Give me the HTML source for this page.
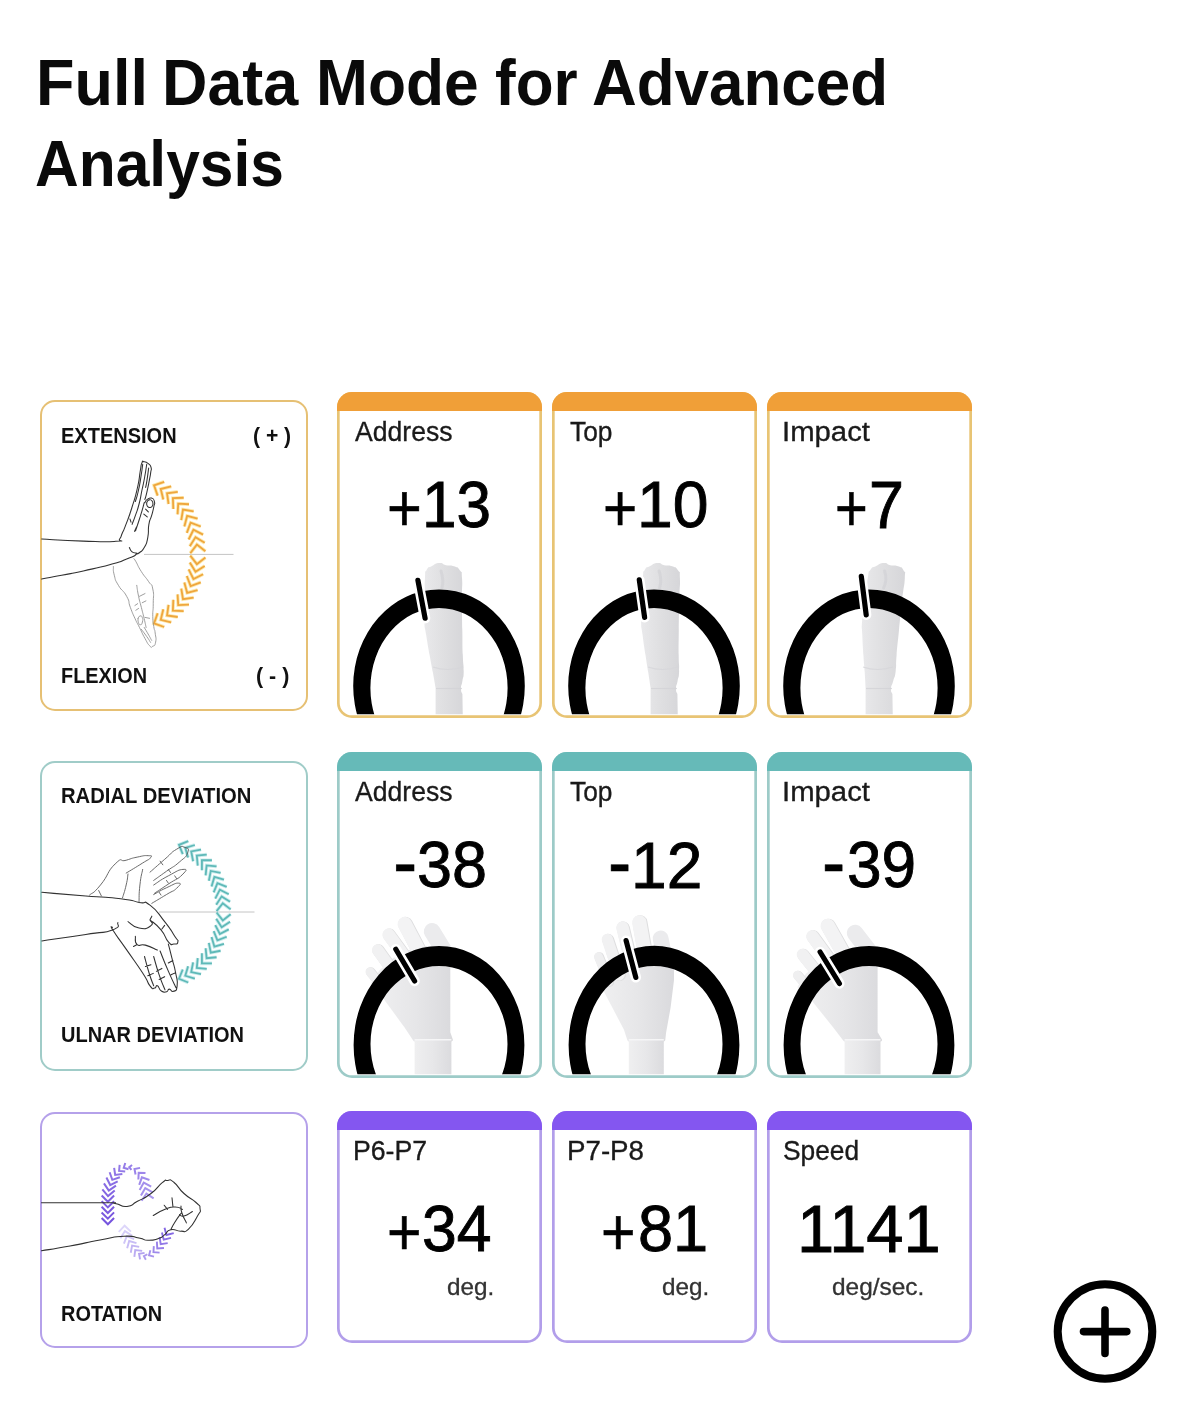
<!DOCTYPE html>
<html><head><meta charset="utf-8"><title>Full Data Mode</title>
<style>
html,body{margin:0;padding:0;background:#fff;}
body{width:1200px;height:1428px;position:relative;overflow:hidden;filter:blur(0.45px);font-family:"Liberation Sans",sans-serif;color:#111;}
.t{position:absolute;white-space:nowrap;line-height:1;transform-origin:0 0;margin:0;padding:0;}
.b{font-weight:bold;}
.card{position:absolute;box-sizing:border-box;background:#fff;overflow:hidden;}
.bar{position:absolute;left:0;top:0;right:0;}
svg{position:absolute;left:0;top:0;overflow:visible;}
</style></head><body>
<h1 style="margin:0;font-size:0">
<span class="t b" style="left:36.25px;top:50.71px;font-size:64.73px;transform:scaleX(0.9727);color:#0a0a0a;">Full</span>
<span class="t b" style="left:162.01px;top:50.71px;font-size:64.73px;transform:scaleX(0.9713);color:#0a0a0a;">Data</span>
<span class="t b" style="left:316.29px;top:50.71px;font-size:64.73px;transform:scaleX(0.9633);color:#0a0a0a;">Mode</span>
<span class="t b" style="left:495.17px;top:50.62px;font-size:64.83px;transform:scaleX(0.9563);color:#0a0a0a;">for</span>
<span class="t b" style="left:592.45px;top:50.71px;font-size:64.73px;transform:scaleX(0.9571);color:#0a0a0a;">Advanced</span>
<span class="t b" style="left:34.74px;top:131.35px;font-size:65.09px;transform:scaleX(0.9299);color:#0a0a0a;">Analysis</span>
</h1>
<div class="card" style="left:39.7px;top:400px;width:268.7px;height:310.5px;border:2.6px solid #e6c074;border-radius:15px;"></div>
<div class="card" style="left:39.7px;top:761px;width:268.7px;height:309.5px;border:2.6px solid #a0ccc8;border-radius:15px;"></div>
<div class="card" style="left:39.7px;top:1111.5px;width:268.7px;height:236.5px;border:2.6px solid #b5a1ea;border-radius:15px;"></div>
<div class="card" style="left:337.4px;top:392px;width:204.7px;height:326px;border-radius:15px;box-shadow:inset 0 0 0 2.7px #e8c474;"><div class="bar" style="height:19.1px;background:#f09f38;"></div></div>
<div class="card" style="left:552.3px;top:392px;width:204.7px;height:326px;border-radius:15px;box-shadow:inset 0 0 0 2.7px #e8c474;"><div class="bar" style="height:19.1px;background:#f09f38;"></div></div>
<div class="card" style="left:767.2px;top:392px;width:204.7px;height:326px;border-radius:15px;box-shadow:inset 0 0 0 2.7px #e8c474;"><div class="bar" style="height:19.1px;background:#f09f38;"></div></div>
<div class="card" style="left:337.4px;top:751.75px;width:204.7px;height:326.25px;border-radius:15px;box-shadow:inset 0 0 0 2.7px #9dcbc8;"><div class="bar" style="height:19.1px;background:#66bab8;"></div></div>
<div class="card" style="left:552.3px;top:751.75px;width:204.7px;height:326.25px;border-radius:15px;box-shadow:inset 0 0 0 2.7px #9dcbc8;"><div class="bar" style="height:19.1px;background:#66bab8;"></div></div>
<div class="card" style="left:767.2px;top:751.75px;width:204.7px;height:326.25px;border-radius:15px;box-shadow:inset 0 0 0 2.7px #9dcbc8;"><div class="bar" style="height:19.1px;background:#66bab8;"></div></div>
<div class="card" style="left:337.4px;top:1111.25px;width:204.7px;height:231.75px;border-radius:15px;box-shadow:inset 0 0 0 2.7px #b29eea;"><div class="bar" style="height:19.1px;background:#8456f0;"></div></div>
<div class="card" style="left:552.3px;top:1111.25px;width:204.7px;height:231.75px;border-radius:15px;box-shadow:inset 0 0 0 2.7px #b29eea;"><div class="bar" style="height:19.1px;background:#8456f0;"></div></div>
<div class="card" style="left:767.2px;top:1111.25px;width:204.7px;height:231.75px;border-radius:15px;box-shadow:inset 0 0 0 2.7px #b29eea;"><div class="bar" style="height:19.1px;background:#8456f0;"></div></div>
<span class="t b" style="left:60.65px;top:425.24px;font-size:22.40px;transform:scaleX(0.8936);color:#111;">EXTENSION</span>
<span class="t b" style="left:252.74px;top:425.24px;font-size:22.40px;transform:scaleX(0.9426);color:#111;">( + )</span>
<span class="t b" style="left:61.16px;top:665.04px;font-size:22.40px;transform:scaleX(0.8875);color:#111;">FLEXION</span>
<span class="t b" style="left:255.53px;top:665.04px;font-size:22.40px;transform:scaleX(0.9573);color:#111;">( - )</span>
<span class="t b" style="left:60.63px;top:785.24px;font-size:22.40px;transform:scaleX(0.9037);color:#111;">RADIAL DEVIATION</span>
<span class="t b" style="left:60.80px;top:1024.14px;font-size:22.40px;transform:scaleX(0.8934);color:#111;">ULNAR DEVIATION</span>
<span class="t b" style="left:60.65px;top:1302.64px;font-size:22.40px;transform:scaleX(0.8897);color:#111;">ROTATION</span>
<span class="t" style="left:355.43px;top:416.69px;font-size:28.36px;transform:scaleX(0.9373);color:#1a1a1a;-webkit-text-stroke:0.35px #1a1a1a;">Address</span>
<span class="t" style="left:569.91px;top:416.69px;font-size:28.36px;transform:scaleX(0.9284);color:#1a1a1a;-webkit-text-stroke:0.35px #1a1a1a;">Top</span>
<span class="t" style="left:782.29px;top:416.69px;font-size:28.36px;transform:scaleX(1.0334);color:#1a1a1a;-webkit-text-stroke:0.35px #1a1a1a;">Impact</span>
<span class="t" style="left:355.43px;top:776.69px;font-size:28.36px;transform:scaleX(0.9373);color:#1a1a1a;-webkit-text-stroke:0.35px #1a1a1a;">Address</span>
<span class="t" style="left:569.91px;top:776.69px;font-size:28.36px;transform:scaleX(0.9284);color:#1a1a1a;-webkit-text-stroke:0.35px #1a1a1a;">Top</span>
<span class="t" style="left:782.29px;top:776.69px;font-size:28.36px;transform:scaleX(1.0334);color:#1a1a1a;-webkit-text-stroke:0.35px #1a1a1a;">Impact</span>
<span class="t" style="left:352.80px;top:1136.61px;font-size:27.64px;transform:scaleX(0.9645);color:#1a1a1a;-webkit-text-stroke:0.35px #1a1a1a;">P6-P7</span>
<span class="t" style="left:566.71px;top:1136.61px;font-size:27.64px;transform:scaleX(1.0027);color:#1a1a1a;-webkit-text-stroke:0.35px #1a1a1a;">P7-P8</span>
<span class="t" style="left:782.51px;top:1136.94px;font-size:27.24px;transform:scaleX(0.9671);color:#1a1a1a;-webkit-text-stroke:0.35px #1a1a1a;">Speed</span>
<div class="num"><span class="t" style="left:387.32px;top:475.01px;font-size:66.12px;transform:scaleX(0.9012);color:#000;-webkit-text-stroke:0.6px #000;">+</span><span class="t" style="left:422.05px;top:472.83px;font-size:64.59px;transform:scaleX(0.9609);color:#000;-webkit-text-stroke:0.9px #000;">13</span></div>
<div class="num"><span class="t" style="left:602.87px;top:475.01px;font-size:66.12px;transform:scaleX(0.8856);color:#000;-webkit-text-stroke:0.6px #000;">+</span><span class="t" style="left:636.88px;top:472.83px;font-size:64.59px;transform:scaleX(0.9948);color:#000;-webkit-text-stroke:0.9px #000;">10</span></div>
<div class="num"><span class="t" style="left:835.00px;top:475.01px;font-size:66.12px;transform:scaleX(0.8482);color:#000;-webkit-text-stroke:0.6px #000;">+</span><span class="t" style="left:869.15px;top:471.88px;font-size:66.47px;transform:scaleX(0.9442);color:#000;-webkit-text-stroke:0.9px #000;">7</span></div>
<div class="num"><span class="t" style="left:392.52px;top:821.58px;font-size:80.00px;transform:scaleX(0.9098);color:#000;-webkit-text-stroke:0.6px #000;">-</span><span class="t" style="left:416.84px;top:832.83px;font-size:64.59px;transform:scaleX(0.9747);color:#000;-webkit-text-stroke:0.9px #000;">38</span></div>
<div class="num"><span class="t" style="left:607.91px;top:821.58px;font-size:80.00px;transform:scaleX(0.8711);color:#000;-webkit-text-stroke:0.6px #000;">-</span><span class="t" style="left:630.89px;top:832.69px;font-size:65.52px;transform:scaleX(0.9785);color:#000;-webkit-text-stroke:0.9px #000;">12</span></div>
<div class="num"><span class="t" style="left:822.46px;top:821.58px;font-size:80.00px;transform:scaleX(0.8711);color:#000;-webkit-text-stroke:0.6px #000;">-</span><span class="t" style="left:846.87px;top:832.83px;font-size:64.59px;transform:scaleX(0.9620);color:#000;-webkit-text-stroke:0.9px #000;">39</span></div>
<div class="num"><span class="t" style="left:386.85px;top:1199.01px;font-size:66.12px;transform:scaleX(0.8934);color:#000;-webkit-text-stroke:0.6px #000;">+</span><span class="t" style="left:421.85px;top:1196.83px;font-size:64.59px;transform:scaleX(0.9681);color:#000;-webkit-text-stroke:0.9px #000;">34</span></div>
<div class="num"><span class="t" style="left:601.34px;top:1199.01px;font-size:66.12px;transform:scaleX(0.8949);color:#000;-webkit-text-stroke:0.6px #000;">+</span><span class="t" style="left:638.47px;top:1196.83px;font-size:64.59px;transform:scaleX(0.9775);color:#000;-webkit-text-stroke:0.9px #000;">81</span></div>
<div class="num"><span class="t" style="left:796.74px;top:1195.88px;font-size:66.47px;transform:scaleX(1.0054);color:#000;-webkit-text-stroke:0.9px #000;">1141</span></div>
<span class="t" style="left:446.97px;top:1275.07px;font-size:24.14px;transform:scaleX(1.0057);color:#333;-webkit-text-stroke:0.3px #333;">deg.</span>
<span class="t" style="left:661.97px;top:1275.07px;font-size:24.14px;transform:scaleX(1.0057);color:#333;-webkit-text-stroke:0.3px #333;">deg.</span>
<span class="t" style="left:832.16px;top:1275.07px;font-size:24.14px;transform:scaleX(1.0120);color:#333;-webkit-text-stroke:0.3px #333;">deg/sec.</span>
<svg width="1200" height="1428" viewBox="0 0 1200 1428">
<defs>
<filter id="bl" x="-10%" y="-10%" width="120%" height="120%"><feGaussianBlur stdDeviation="0.7"/></filter>
<filter id="bl2" x="-10%" y="-10%" width="120%" height="120%"><feGaussianBlur stdDeviation="0.35"/></filter>
<linearGradient id="hg" x1="0" x2="1" y1="0" y2="0"><stop offset="0" stop-color="#f0f0f1"/><stop offset="0.55" stop-color="#e6e6e8"/><stop offset="1" stop-color="#dadadd"/></linearGradient>
<linearGradient id="hg1" x1="0" x2="1" y1="0" y2="0"><stop offset="0" stop-color="#e9e9eb"/><stop offset="0.5" stop-color="#dfdfe1"/><stop offset="1" stop-color="#d6d6d9"/></linearGradient>
<linearGradient id="wg" x1="0" x2="1" y1="0" y2="0"><stop offset="0" stop-color="#efeff0"/><stop offset="0.5" stop-color="#e7e7e9"/><stop offset="1" stop-color="#dbdbde"/></linearGradient>
<clipPath id="cp00"><rect x="340" y="394.5" width="199.5" height="319.79999999999995" rx="12.5"/></clipPath>
<clipPath id="cp01"><rect x="555" y="394.5" width="199.5" height="319.79999999999995" rx="12.5"/></clipPath>
<clipPath id="cp02"><rect x="770" y="394.5" width="199.5" height="319.79999999999995" rx="12.5"/></clipPath>
<clipPath id="cp10"><rect x="340" y="755" width="199.5" height="319.29999999999995" rx="12.5"/></clipPath>
<clipPath id="cp11"><rect x="555" y="755" width="199.5" height="319.29999999999995" rx="12.5"/></clipPath>
<clipPath id="cp12"><rect x="770" y="755" width="199.5" height="319.29999999999995" rx="12.5"/></clipPath>
</defs>
<g id="p1">
<path d="M144 554.4H233.5" stroke="#c4c4c4" stroke-width="1"/>
<g filter="url(#bl2)"><path d="M190.27 553.18L196.87 544.63L205.42 551.23M205.42 557.57L196.87 564.17L190.27 555.62M189.81 546.29L195.53 537.13L204.69 542.85M204.69 565.95L195.53 571.67L189.81 562.51M188.66 539.49L193.44 529.80L203.12 534.58M203.12 574.22L193.44 579.00L188.66 569.31M186.84 532.84L190.63 522.72L200.75 526.51M200.75 582.29L190.63 586.08L186.84 575.96M184.37 526.40L187.14 515.96L197.58 518.72M197.58 590.08L187.14 592.84L184.37 582.40M181.27 520.23L182.99 509.57L193.65 511.28M193.65 597.52L182.99 599.23L181.27 588.57M177.58 514.41L178.22 503.63L189.00 504.27M189.00 604.53L178.22 605.17L177.58 594.39M173.32 508.98L172.89 498.19L183.68 497.76M183.68 611.04L172.89 610.61L173.32 599.82M168.54 504.00L167.04 493.31L177.74 491.80M177.74 617.00L167.04 615.49L168.54 604.80M163.30 499.52L160.74 489.03L171.23 486.47M171.23 622.33L160.74 619.77L163.30 609.28M157.63 495.59L154.04 485.40L164.23 481.81M164.23 626.99L154.04 623.40L157.63 613.21" fill="none" stroke="#fbe49a" stroke-width="3.6" stroke-linejoin="miter" opacity="0.8"/>
<path d="M190.27 553.18L196.87 544.63L205.42 551.23M205.42 557.57L196.87 564.17L190.27 555.62M189.81 546.29L195.53 537.13L204.69 542.85M204.69 565.95L195.53 571.67L189.81 562.51M188.66 539.49L193.44 529.80L203.12 534.58M203.12 574.22L193.44 579.00L188.66 569.31M186.84 532.84L190.63 522.72L200.75 526.51M200.75 582.29L190.63 586.08L186.84 575.96M184.37 526.40L187.14 515.96L197.58 518.72M197.58 590.08L187.14 592.84L184.37 582.40M181.27 520.23L182.99 509.57L193.65 511.28M193.65 597.52L182.99 599.23L181.27 588.57M177.58 514.41L178.22 503.63L189.00 504.27M189.00 604.53L178.22 605.17L177.58 594.39M173.32 508.98L172.89 498.19L183.68 497.76M183.68 611.04L172.89 610.61L173.32 599.82M168.54 504.00L167.04 493.31L177.74 491.80M177.74 617.00L167.04 615.49L168.54 604.80M163.30 499.52L160.74 489.03L171.23 486.47M171.23 622.33L160.74 619.77L163.30 609.28M157.63 495.59L154.04 485.40L164.23 481.81M164.23 626.99L154.04 623.40L157.63 613.21" fill="none" stroke="#efa63c" stroke-width="1.8" stroke-linejoin="miter"/>
</g>
<path transform="translate(40 455) scale(0.10834)" d="M15.0 775.0C143.3 781.7 171.7 787.7 400.0 795.0C628.3 802.3 588.3 803.7 700.0 797.0C811.7 790.3 715.0 800.7 735.0 775.0C755.0 749.3 741.7 761.7 760.0 720.0C778.3 678.3 760.0 730.0 790.0 650.0C820.0 570.0 813.3 596.7 850.0 480.0C886.7 363.3 875.0 410.0 900.0 300.0C925.0 190.0 911.7 225.0 925.0 150.0C938.3 75.0 928.3 104.3 940.0 75.0C951.7 45.7 940.0 60.3 960.0 62.0C980.0 63.7 978.3 62.3 1000.0 80.0C1021.7 97.7 1017.7 88.3 1025.0 115.0C1032.3 141.7 1027.0 121.7 1022.0 160.0C1017.0 198.3 1022.3 166.7 1010.0 230.0C997.7 293.3 999.0 290.0 985.0 350.0C971.0 410.0 973.7 390.0 968.0 410.0 M968.0 440.0C975.3 430.0 969.3 424.0 990.0 410.0C1010.7 396.0 1008.0 391.3 1030.0 398.0C1052.0 404.7 1049.3 402.7 1056.0 430.0C1062.7 457.3 1058.7 436.7 1050.0 480.0C1041.3 523.3 1045.0 506.7 1030.0 560.0C1015.0 613.3 1016.7 573.3 1005.0 640.0C993.3 706.7 1008.3 690.0 995.0 760.0C981.7 830.0 990.0 803.3 965.0 850.0C940.0 896.7 946.7 878.0 920.0 900.0C893.3 922.0 896.7 910.7 885.0 916.0 M825.0 855.0C833.3 868.3 828.3 875.0 850.0 895.0C871.7 915.0 906.7 893.3 890.0 915.0C873.3 936.7 880.0 928.3 800.0 960.0C720.0 991.7 783.3 973.3 650.0 1010.0C516.7 1046.7 550.0 1036.7 400.0 1070.0C250.0 1103.3 328.3 1085.0 200.0 1110.0C71.7 1135.0 76.7 1133.3 15.0 1145.0 M948.0 85.0C942.7 123.3 945.3 118.3 932.0 200.0C918.7 281.7 925.3 253.3 908.0 330.0C890.7 406.7 889.3 396.7 880.0 430.0 M985.0 85.0C978.3 126.7 980.0 128.3 965.0 210.0C950.0 291.7 956.7 250.0 940.0 330.0C923.3 410.0 935.0 373.3 915.0 450.0C895.0 526.7 901.7 496.7 880.0 560.0C858.3 623.3 860.0 613.3 850.0 640.0 M1003.0 120.0C998.0 156.7 997.3 170.0 988.0 230.0C978.7 290.0 979.3 276.7 975.0 300.0 M962.0 440.0C954.7 466.7 955.7 466.7 940.0 520.0C924.3 573.3 934.3 540.0 915.0 600.0C895.7 660.0 893.0 666.7 882.0 700.0 M975.0 500.0 L1000.0 525.0 M958.0 545.0 L990.0 572.0 M985.0 440.0C991.7 431.7 988.3 420.0 1005.0 415.0C1021.7 410.0 1023.3 408.3 1035.0 425.0C1046.7 441.7 1046.7 445.0 1040.0 465.0C1033.3 485.0 1031.7 483.3 1015.0 485.0C998.3 486.7 1000.0 485.0 990.0 470.0C980.0 455.0 986.7 450.0 985.0 440.0 M830.0 590.0 L840.0 620.0 M872.0 705.0 L892.0 662.0" fill="none" stroke="#303030" stroke-width="9.69" stroke-linecap="round" stroke-linejoin="round" filter="url(#bl2)"/>
<path transform="translate(90 545) scale(0.09166)" d="M255.0 235.0C258.3 266.7 246.7 261.7 265.0 330.0C283.3 398.3 265.0 363.3 310.0 440.0C355.0 516.7 356.7 480.0 400.0 560.0C443.3 640.0 410.0 600.0 440.0 680.0C470.0 760.0 456.7 726.7 490.0 800.0C523.3 873.3 503.3 826.7 540.0 900.0C576.7 973.3 563.3 954.0 600.0 1020.0C636.7 1086.0 622.7 1069.3 650.0 1098.0C677.3 1126.7 660.0 1118.7 682.0 1106.0C704.0 1093.3 706.3 1108.7 716.0 1060.0C725.7 1011.3 717.7 1016.7 711.0 960.0C704.3 903.3 704.7 950.0 696.0 890.0C687.3 830.0 687.0 863.3 685.0 780.0C683.0 696.7 690.0 740.0 690.0 640.0C690.0 540.0 701.7 560.0 685.0 480.0C668.3 400.0 681.7 463.3 640.0 400.0C598.3 336.7 606.7 363.3 560.0 290.0C513.3 216.7 527.3 226.7 500.0 180.0C472.7 133.3 485.3 160.0 478.0 150.0 M510.0 440.0C516.7 480.0 513.3 480.0 530.0 560.0C546.7 640.0 540.0 600.0 560.0 680.0C580.0 760.0 572.7 726.7 590.0 800.0C607.3 873.3 604.7 866.7 612.0 900.0 M540.0 560.0 L600.0 530.0 M570.0 630.0 L610.0 610.0 M490.0 660.0 L520.0 640.0 M500.0 712.0 L530.0 692.0 M525.0 800.0C531.7 791.7 530.0 778.3 545.0 775.0C560.0 771.7 561.0 768.3 570.0 790.0C579.0 811.7 578.7 813.3 572.0 840.0C565.3 866.7 564.7 868.3 550.0 870.0C535.3 871.7 536.3 868.3 528.0 845.0C519.7 821.7 526.0 815.0 525.0 800.0 M600.0 790.0 L650.0 800.0 M560.0 920.0C580.0 946.7 586.7 952.7 620.0 1000.0C653.3 1047.3 646.7 1041.3 660.0 1062.0 M592.0 900.0C608.7 928.3 615.3 938.3 642.0 985.0C668.7 1031.7 662.0 1021.7 672.0 1040.0" fill="none" stroke="#8c8c8c" stroke-width="9.27" stroke-linecap="round" stroke-linejoin="round" filter="url(#bl2)"/>
</g>
<g id="p2">
<path d="M159 912H254.5" stroke="#c4c4c4" stroke-width="1"/>
<g filter="url(#bl2)"><path d="M216.60 911.08L222.79 903.22L230.65 909.41M230.65 914.19L222.79 920.38L216.60 912.52M216.23 904.78L221.65 896.37L230.05 901.78M230.05 921.82L221.65 927.23L216.23 918.82M215.27 898.54L219.85 889.66L228.74 894.24M228.74 929.36L219.85 933.94L215.27 925.06M213.71 892.43L217.42 883.15L226.71 886.86M226.71 936.74L217.42 940.45L213.71 931.17M211.57 886.49L214.39 876.90L223.98 879.71M223.98 943.89L214.39 946.70L211.57 937.11M208.88 880.79L210.77 870.97L220.59 872.85M220.59 950.75L210.77 952.63L208.88 942.81M205.66 875.36L206.60 865.41L216.56 866.35M216.56 957.25L206.60 958.19L205.66 948.24M201.94 870.27L201.93 860.27L211.93 860.26M211.93 963.34L201.93 963.33L201.94 953.33M197.74 865.56L196.78 855.60L206.73 854.64M206.73 968.96L196.78 968.00L197.74 958.04M193.12 861.26L191.21 851.45L201.03 849.54M201.03 974.06L191.21 972.15L193.12 962.34M188.11 857.43L185.27 847.84L194.86 845.01M194.86 978.59L185.27 975.76L188.11 966.17M182.75 854.09L179.02 844.82L188.29 841.08M188.29 982.52L179.02 978.78L182.75 969.51" fill="none" stroke="#bfe9e8" stroke-width="3.6" stroke-linejoin="miter" opacity="0.8"/>
<path d="M216.60 911.08L222.79 903.22L230.65 909.41M230.65 914.19L222.79 920.38L216.60 912.52M216.23 904.78L221.65 896.37L230.05 901.78M230.05 921.82L221.65 927.23L216.23 918.82M215.27 898.54L219.85 889.66L228.74 894.24M228.74 929.36L219.85 933.94L215.27 925.06M213.71 892.43L217.42 883.15L226.71 886.86M226.71 936.74L217.42 940.45L213.71 931.17M211.57 886.49L214.39 876.90L223.98 879.71M223.98 943.89L214.39 946.70L211.57 937.11M208.88 880.79L210.77 870.97L220.59 872.85M220.59 950.75L210.77 952.63L208.88 942.81M205.66 875.36L206.60 865.41L216.56 866.35M216.56 957.25L206.60 958.19L205.66 948.24M201.94 870.27L201.93 860.27L211.93 860.26M211.93 963.34L201.93 963.33L201.94 953.33M197.74 865.56L196.78 855.60L206.73 854.64M206.73 968.96L196.78 968.00L197.74 958.04M193.12 861.26L191.21 851.45L201.03 849.54M201.03 974.06L191.21 972.15L193.12 962.34M188.11 857.43L185.27 847.84L194.86 845.01M194.86 978.59L185.27 975.76L188.11 966.17M182.75 854.09L179.02 844.82L188.29 841.08M188.29 982.52L179.02 978.78L182.75 969.51" fill="none" stroke="#5fb9b8" stroke-width="1.8" stroke-linejoin="miter"/>
</g>
<path transform="translate(40 830) scale(0.18333)" d="M10.0 340.0C90.0 346.7 106.7 348.3 250.0 360.0C393.3 371.7 343.3 363.3 440.0 375.0C536.7 386.7 486.7 383.3 540.0 395.0C593.3 406.7 553.3 375.0 600.0 410.0C646.7 445.0 635.0 443.3 680.0 500.0C725.0 556.7 711.0 543.3 735.0 580.0C759.0 616.7 753.7 596.0 752.0 610.0C750.3 624.0 747.3 622.0 730.0 622.0C712.7 622.0 723.3 635.7 700.0 610.0C676.7 584.3 693.3 585.0 660.0 545.0C626.7 505.0 620.0 508.3 600.0 490.0 M10.0 605.0C90.0 593.3 121.7 590.0 250.0 570.0C378.3 550.0 336.7 566.7 395.0 545.0C453.3 523.3 415.0 518.3 425.0 505.0 M395.0 530.0C396.7 536.7 375.0 510.0 400.0 550.0C425.0 590.0 416.7 573.3 470.0 650.0C523.3 726.7 516.7 713.3 560.0 780.0C603.3 846.7 578.3 822.7 600.0 850.0C621.7 877.3 611.7 862.0 625.0 862.0C638.3 862.0 627.7 844.7 640.0 850.0C652.3 855.3 645.3 867.3 662.0 878.0C678.7 888.7 675.7 885.3 690.0 882.0C704.3 878.7 692.3 868.7 705.0 868.0C717.7 867.3 713.7 886.0 728.0 880.0C742.3 874.0 744.0 883.3 748.0 850.0C752.0 816.7 749.3 830.0 740.0 780.0C730.7 730.0 733.3 752.7 720.0 700.0C706.7 647.3 706.7 648.0 700.0 622.0 M480.0 500.0C500.0 511.7 498.3 527.7 540.0 535.0C581.7 542.3 585.0 537.0 605.0 522.0C625.0 507.0 601.7 500.7 600.0 490.0 M520.0 580.0C523.3 595.0 511.7 609.0 530.0 625.0C548.3 641.0 538.3 618.0 575.0 628.0C611.7 638.0 618.3 646.0 640.0 655.0 M530.0 625.0 L510.0 635.0 M570.0 690.0C578.3 720.0 578.3 726.7 595.0 780.0C611.7 833.3 611.7 826.7 620.0 850.0 M620.0 690.0C630.0 723.3 629.3 729.3 650.0 790.0C670.7 850.7 671.3 844.7 682.0 872.0 M655.0 660.0C670.0 696.7 671.0 703.3 700.0 770.0C729.0 836.7 728.0 830.0 742.0 860.0 M575.0 745.0 L605.0 735.0 M588.0 795.0 L618.0 782.0 M635.0 770.0 L665.0 755.0 M650.0 815.0 L680.0 800.0 M700.0 725.0 L725.0 712.0 M715.0 790.0 L740.0 778.0 M665.0 540.0 L680.0 520.0 M600.0 490.0 L610.0 470.0" fill="none" stroke="#303030" stroke-width="5.73" stroke-linecap="round" stroke-linejoin="round" filter="url(#bl2)"/>
<path transform="translate(40 830) scale(0.18333)" d="M270.0 355.0C290.0 336.7 283.3 356.7 330.0 300.0C376.7 243.3 363.3 230.0 410.0 185.0C456.7 140.0 430.0 177.3 470.0 165.0C510.0 152.7 490.0 156.3 530.0 148.0C570.0 139.7 566.0 138.7 590.0 140.0C614.0 141.3 612.0 138.7 602.0 152.0C592.0 165.3 604.0 152.3 560.0 180.0C516.0 207.7 500.0 216.7 470.0 235.0 M320.0 330.0 L335.0 360.0 M480.0 240.0C476.7 260.0 480.0 256.7 470.0 300.0C460.0 343.3 456.7 346.7 450.0 370.0 M560.0 215.0C555.0 243.3 551.7 240.0 545.0 300.0C538.3 360.0 541.7 363.3 540.0 395.0 M600.0 230.0C626.7 206.7 631.7 201.7 680.0 160.0C728.3 118.3 708.3 126.7 745.0 105.0C781.7 83.3 770.0 88.3 790.0 95.0C810.0 101.7 815.0 98.3 805.0 125.0C795.0 151.7 798.3 141.7 760.0 175.0C721.7 208.3 736.7 191.7 690.0 225.0C643.3 258.3 643.3 258.3 620.0 275.0 M620.0 300.0C646.7 283.3 646.7 278.3 700.0 250.0C753.3 221.7 755.0 216.7 780.0 215.0C805.0 213.3 801.7 218.3 775.0 245.0C748.3 271.7 750.0 261.7 700.0 295.0C650.0 328.3 650.0 328.3 625.0 345.0 M620.0 352.0C643.3 339.7 645.0 335.7 690.0 315.0C735.0 294.3 736.7 289.0 755.0 290.0C773.3 291.0 766.7 297.3 745.0 318.0C723.3 338.7 735.0 324.7 690.0 352.0C645.0 379.3 636.7 384.0 610.0 400.0 M655.0 170.0 L670.0 190.0 M700.0 215.0 L712.0 232.0 M690.0 275.0 L700.0 290.0 M735.0 250.0 L745.0 265.0 M650.0 340.0 L660.0 355.0" fill="none" stroke="#5a5a5a" stroke-width="4.91" stroke-linecap="round" stroke-linejoin="round" filter="url(#bl2)"/>
</g>
<g id="p3">
<g filter="url(#bl2)">
<path d="M173.73 1233.09L166.43 1235.00L164.52 1227.70" fill="none" stroke="#8468e4" stroke-width="1.9"/>
<path d="M170.99 1237.89L163.72 1239.69L161.93 1232.42" fill="none" stroke="#8b70e6" stroke-width="1.9"/>
<path d="M167.69 1243.15L160.68 1244.16L159.67 1237.15" fill="none" stroke="#9279e7" stroke-width="1.9"/>
<path d="M163.97 1247.97L157.27 1248.37L156.88 1241.67" fill="none" stroke="#9981e9" stroke-width="1.9"/>
<path d="M159.59 1252.58L153.45 1252.20L153.83 1246.07" fill="none" stroke="#9f8aeb" stroke-width="1.9"/>
<path d="M154.00 1256.67L149.04 1255.32L150.39 1250.36" fill="none" stroke="#a692ec" stroke-width="1.9"/>
<path d="M145.86 1259.66L143.88 1256.21L147.33 1254.22" fill="none" stroke="#ad9bee" stroke-width="1.9"/>
<path d="M140.03 1259.29L139.06 1253.78L144.57 1252.82" fill="none" stroke="#b4a3f0" stroke-width="1.9"/>
<path d="M134.35 1256.96L135.21 1250.02L142.16 1250.88" fill="none" stroke="#bbacf2" stroke-width="1.9"/>
<path d="M130.77 1252.73L132.07 1245.61L139.19 1246.90" fill="none" stroke="#c2b4f3" stroke-width="1.9"/>
<path d="M127.15 1248.35L129.17 1241.03L136.49 1243.05" fill="none" stroke="#c8bdf5" stroke-width="1.9"/>
<path d="M123.91 1243.60L126.74 1236.20L134.13 1239.03" fill="none" stroke="#cfc5f7" stroke-width="1.9"/>
<path d="M120.39 1238.20L124.93 1231.11L132.01 1235.65" fill="none" stroke="#d6cef8" stroke-width="1.9"/>
<path d="M118.75 1231.97L124.64 1225.71L130.90 1231.61" fill="none" stroke="#ddd6fa" stroke-width="1.9"/>
<path d="M141.69 1200.79L146.43 1193.57L153.64 1198.31" fill="none" stroke="#a996ee" stroke-width="2.0"/>
<path d="M140.97 1195.43L145.25 1188.06L152.63 1192.34" fill="none" stroke="#a692ed" stroke-width="2.0"/>
<path d="M139.65 1190.05L143.76 1182.62L151.18 1186.73" fill="none" stroke="#a38fec" stroke-width="2.0"/>
<path d="M139.22 1184.87L141.88 1177.31L149.44 1179.98" fill="none" stroke="#a08beb" stroke-width="2.0"/>
<path d="M138.37 1179.49L138.69 1172.69L145.49 1173.00" fill="none" stroke="#9e87ea" stroke-width="2.0"/>
<path d="M135.56 1174.47L134.50 1168.93L140.05 1167.87" fill="none" stroke="#9b84ea" stroke-width="2.0"/>
<path d="M131.42 1169.97L129.22 1167.14L132.06 1164.94" fill="none" stroke="#9880e9" stroke-width="2.0"/>
<path d="M128.51 1169.32L123.73 1167.78L125.27 1163.00" fill="none" stroke="#957ce8" stroke-width="2.0"/>
<path d="M125.21 1171.50L119.09 1170.95L119.64 1164.83" fill="none" stroke="#9279e7" stroke-width="2.0"/>
<path d="M122.34 1173.96L115.17 1174.99L114.14 1167.81" fill="none" stroke="#9075e6" stroke-width="2.0"/>
<path d="M119.86 1177.19L112.30 1179.83L109.65 1172.27" fill="none" stroke="#8d71e5" stroke-width="2.0"/>
<path d="M117.69 1181.27L110.20 1185.06L106.40 1177.56" fill="none" stroke="#8a6ee4" stroke-width="2.0"/>
<path d="M115.97 1185.66L108.81 1190.52L103.95 1183.36" fill="none" stroke="#876ae3" stroke-width="2.0"/>
<path d="M114.72 1190.43L108.02 1196.10L102.36 1189.40" fill="none" stroke="#8466e2" stroke-width="2.0"/>
<path d="M114.09 1195.51L107.87 1201.73L101.65 1195.51" fill="none" stroke="#8163e2" stroke-width="2.0"/>
<path d="M114.10 1201.19L107.84 1207.37L101.66 1201.11" fill="none" stroke="#7e5fe1" stroke-width="2.0"/>
<path d="M114.05 1206.78L107.83 1213.01L101.60 1206.79" fill="none" stroke="#7c5be0" stroke-width="2.0"/>
<path d="M114.05 1212.41L107.84 1218.65L101.60 1212.44" fill="none" stroke="#7958df" stroke-width="2.0"/>
<path d="M114.07 1218.05L107.86 1224.29L101.63 1218.07" fill="none" stroke="#7654de" stroke-width="2.0"/>
</g>
<path transform="translate(40 1150) scale(0.15000)" d="M10.0 352.0C146.7 352.0 256.7 350.7 420.0 352.0C583.3 353.3 446.7 348.0 500.0 356.0C553.3 364.0 530.0 380.7 580.0 376.0C630.0 371.3 596.7 370.7 650.0 342.0C703.3 313.3 685.0 331.3 740.0 290.0C795.0 248.7 778.3 247.0 815.0 218.0C851.7 189.0 824.3 204.0 850.0 203.0C875.7 202.0 855.3 186.0 892.0 215.0C928.7 244.0 910.7 245.0 960.0 290.0C1009.3 335.0 1004.3 316.0 1040.0 350.0C1075.7 384.0 1063.7 362.0 1067.0 392.0C1070.3 422.0 1075.7 395.0 1050.0 440.0C1024.3 485.0 1026.7 493.3 990.0 527.0C953.3 560.7 979.3 539.7 940.0 541.0C900.7 542.3 908.7 522.7 872.0 531.0C835.3 539.3 857.3 546.3 830.0 566.0C802.7 585.7 826.7 578.0 790.0 590.0C753.3 602.0 763.3 603.0 720.0 602.0C676.7 601.0 713.3 596.0 660.0 587.0C606.7 578.0 646.7 570.7 560.0 575.0C473.3 579.3 520.0 578.3 400.0 600.0C280.0 621.7 330.0 616.0 200.0 640.0C70.0 664.0 73.3 661.3 10.0 672.0 M755.0 437.0C780.0 423.7 781.7 416.0 830.0 397.0C878.3 378.0 860.0 380.3 900.0 380.0C940.0 379.7 933.3 390.7 950.0 396.0 M880.0 318.0 L886.0 376.0 M828.0 368.0 L850.0 396.0 M940.0 374.0C942.0 389.3 934.0 382.7 946.0 420.0C958.0 457.3 966.0 464.0 976.0 486.0 M1016.0 410.0C997.3 420.0 988.7 433.3 960.0 440.0C931.3 446.7 940.0 433.3 930.0 430.0 M872.0 531.0C881.3 514.0 876.7 517.0 900.0 480.0C923.3 443.0 928.0 440.0 942.0 420.0" fill="none" stroke="#303030" stroke-width="7.00" stroke-linecap="round" stroke-linejoin="round" filter="url(#bl2)"/>
</g>
<circle cx="1105" cy="1331.5" r="47.3" fill="none" stroke="#000" stroke-width="8"/>
<path d="M1083.5 1331.6H1126.8M1105 1310V1353.4" stroke="#000" stroke-width="7.6" stroke-linecap="round" fill="none"/>
<g clip-path="url(#cp00)">
<g filter="url(#bl)">
<path d="M435.6 688.0C434.7 682.7 434.8 683.0 432.8 672.0C430.8 661.0 431.8 667.3 429.6 655.0C427.4 642.7 428.0 646.7 426.2 635.0C424.4 623.3 424.8 631.7 424.3 620.0C423.8 608.3 424.5 614.0 424.7 600.0C424.9 586.0 424.4 588.0 425.0 578.0C425.6 568.0 424.3 574.0 426.6 570.0C428.9 566.0 427.7 568.3 432.0 566.0C436.3 563.7 434.8 563.3 439.5 563.0C444.2 562.7 441.2 564.1 446.0 565.2C450.8 566.3 449.3 564.4 454.0 566.2C458.7 568.0 457.3 566.6 460.0 570.5C462.7 574.4 461.3 568.2 462.0 578.0C462.7 587.8 461.9 582.7 462.0 600.0C462.1 617.3 462.0 611.7 462.3 630.0C462.6 648.3 462.3 641.3 462.8 655.0C463.3 668.7 463.8 662.3 463.7 671.0C463.6 679.7 463.3 675.2 462.4 681.0C461.5 686.8 461.0 684.2 461.0 688.5C461.0 692.8 461.9 692.2 462.4 694.0L462.8 718L435.6 718Z" fill="url(#hg1)"/>
<path d="M441.0 571Q444.0 580 442.0 588" stroke="#d2d2d6" stroke-width="3" fill="none" stroke-linecap="round" opacity="0.7"/>
<path d="M436 688.5 H462" stroke="#d3d3d7" stroke-width="1.2" opacity="0.8"/>
<path d="M433 667 q14 5 30 0" stroke="#d6d6da" stroke-width="1.2" fill="none" opacity="0.8"/>
</g>
<path d="M353.20 686.00A85.80 96.50 0 1 0 524.80 686.00A85.80 96.50 0 1 0 353.20 686.00ZM370.40 688.00A68.60 80.00 0 1 0 507.60 688.00A68.60 80.00 0 1 0 370.40 688.00Z" fill="#000" fill-rule="evenodd"/>
<path d="M417.90 580.30L425.10 618.20" stroke="#fff" stroke-width="10.4" stroke-linecap="round"/>
<path d="M417.90 580.30L425.10 618.20" stroke="#000" stroke-width="5.2" stroke-linecap="round"/>
</g>
<g clip-path="url(#cp01)">
<g filter="url(#bl)">
<path d="M650.6 688.0C649.8 682.7 649.9 683.0 648.2 672.0C646.5 661.0 647.3 667.3 645.5 655.0C643.6 642.7 644.1 646.7 642.6 635.0C641.1 623.3 641.3 631.7 641.1 620.0C640.9 608.3 641.4 614.0 642.0 600.0C642.6 586.0 642.0 588.0 642.9 578.0C643.8 568.0 642.3 574.0 644.7 570.0C647.2 566.0 645.9 568.3 650.2 566.0C654.6 563.7 653.1 563.3 657.8 563.0C662.5 562.7 659.4 564.1 664.2 565.2C669.0 566.3 667.6 564.4 672.2 566.2C676.8 568.0 675.5 566.6 678.1 570.5C680.7 574.4 679.5 568.2 679.9 578.0C680.3 587.8 679.7 582.7 679.3 600.0C679.0 617.3 679.0 611.7 678.8 630.0C678.6 648.3 678.6 641.3 678.7 655.0C678.8 668.7 679.5 662.3 679.1 671.0C678.8 679.7 678.6 675.2 677.6 681.0C676.5 686.8 676.1 684.2 676.0 688.5C675.9 692.8 676.9 692.2 677.4 694.0L677.8 718L650.6 718Z" fill="url(#hg1)"/>
<path d="M659.1 571Q662.1 580 659.6 588" stroke="#d2d2d6" stroke-width="3" fill="none" stroke-linecap="round" opacity="0.7"/>
<path d="M651 688.5 H677" stroke="#d3d3d7" stroke-width="1.2" opacity="0.8"/>
<path d="M648 667 q14 5 30 0" stroke="#d6d6da" stroke-width="1.2" fill="none" opacity="0.8"/>
</g>
<path d="M568.20 686.00A85.80 96.50 0 1 0 739.80 686.00A85.80 96.50 0 1 0 568.20 686.00ZM585.40 688.00A68.60 80.00 0 1 0 722.60 688.00A68.60 80.00 0 1 0 585.40 688.00Z" fill="#000" fill-rule="evenodd"/>
<path d="M639.30 579.80L644.60 617.40" stroke="#fff" stroke-width="10.4" stroke-linecap="round"/>
<path d="M639.30 579.80L644.60 617.40" stroke="#000" stroke-width="5.2" stroke-linecap="round"/>
</g>
<g clip-path="url(#cp02)">
<g filter="url(#bl)">
<path d="M865.6 688.0C865.3 682.7 865.4 683.0 864.7 672.0C863.9 661.0 864.2 667.3 863.4 655.0C862.7 642.7 862.8 646.7 862.3 635.0C861.9 623.3 861.3 631.7 862.2 620.0C863.0 608.3 863.1 614.0 864.9 600.0C866.8 586.0 866.0 588.0 867.8 578.0C869.6 568.0 867.5 574.0 870.3 570.0C873.1 566.0 871.6 568.3 876.2 566.0C880.7 563.7 879.3 563.3 884.0 563.0C888.7 562.7 885.5 564.1 890.2 565.2C895.0 566.3 893.7 564.4 898.1 566.2C902.6 568.0 901.4 566.6 903.6 570.5C905.8 574.4 905.2 568.2 904.8 578.0C904.3 587.8 904.1 582.7 902.2 600.0C900.3 617.3 900.9 611.7 899.0 630.0C897.2 648.3 897.7 641.3 896.6 655.0C895.5 668.7 896.8 662.3 895.7 671.0C894.5 679.7 894.8 675.2 893.2 681.0C891.7 686.8 891.3 684.2 891.0 688.5C890.7 692.8 891.9 692.2 892.4 694.0L892.8 718L865.6 718Z" fill="url(#hg1)"/>
<path d="M884.6 571Q887.6 580 883.6 588" stroke="#d2d2d6" stroke-width="3" fill="none" stroke-linecap="round" opacity="0.7"/>
<path d="M866 688.5 H892" stroke="#d3d3d7" stroke-width="1.2" opacity="0.8"/>
<path d="M863 667 q14 5 30 0" stroke="#d6d6da" stroke-width="1.2" fill="none" opacity="0.8"/>
</g>
<path d="M783.20 686.00A85.80 96.50 0 1 0 954.80 686.00A85.80 96.50 0 1 0 783.20 686.00ZM800.40 688.00A68.60 80.00 0 1 0 937.60 688.00A68.60 80.00 0 1 0 800.40 688.00Z" fill="#000" fill-rule="evenodd"/>
<path d="M861.30 576.30L866.20 614.80" stroke="#fff" stroke-width="10.4" stroke-linecap="round"/>
<path d="M861.30 576.30L866.20 614.80" stroke="#000" stroke-width="5.2" stroke-linecap="round"/>
</g>
<g clip-path="url(#cp10)">
<g filter="url(#bl)">
<path d="M432.1 931.4L443.9 950.6" stroke="#ebebed" stroke-width="16.625831291564577" stroke-linecap="round"/>
<path d="M414.6 1039.9 L405.0 1025.5 L385.8 999.3 L372.6 983.5 L380.5 971.3 L394.5 959.0 L410.3 951.1 L426.0 947.6 L440.0 949.4 L448.8 953.8 L448.8 969.5 L448.8 1032.5 L451.4 1039.9Z" fill="url(#hg)" stroke="url(#hg)" stroke-width="3" stroke-linejoin="round"/>
<path d="M370.8 972.1L383.9 988.2" stroke="#dededf" stroke-width="9.625481274063702" stroke-linecap="round"/>
<path d="M370.0 971.8L383.1 987.9" stroke="#efeff0" stroke-width="9.025481274063702" stroke-linecap="round"/>
<path d="M378.5 950.4L396.2 975.1" stroke="#dededf" stroke-width="12.25061253062653" stroke-linecap="round"/>
<path d="M377.7 950.1L395.4 974.8" stroke="#f1f1f2" stroke-width="11.65061253062653" stroke-linecap="round"/>
<path d="M389.4 935.0L410.2 963.7" stroke="#dededf" stroke-width="13.12565628281414" stroke-linecap="round"/>
<path d="M388.6 934.7L409.4 963.4" stroke="#f2f2f3" stroke-width="12.52565628281414" stroke-linecap="round"/>
<path d="M405.5 924.3L420.7 953.2" stroke="#dededf" stroke-width="14.875743787189359" stroke-linecap="round"/>
<path d="M404.7 924.0L419.9 952.9" stroke="#f3f3f4" stroke-width="14.27574378718936" stroke-linecap="round"/>
<rect x="414.6" y="1039.5" width="36.8" height="39.0" fill="url(#wg)"/>
<path d="M414.6 1039.8H451.4" stroke="#f6f6f7" stroke-width="1.6"/>
</g>
<path d="M353.60 1045.00A85.40 99.10 0 1 0 524.40 1045.00A85.40 99.10 0 1 0 353.60 1045.00ZM370.50 1044.00A68.50 78.00 0 1 0 507.50 1044.00A68.50 78.00 0 1 0 370.50 1044.00Z" fill="#000" fill-rule="evenodd"/>
<path d="M395.80 949.20L414.60 981.00" stroke="#fff" stroke-width="10.4" stroke-linecap="round"/>
<path d="M395.80 949.20L414.60 981.00" stroke="#000" stroke-width="5.2" stroke-linecap="round"/>
</g>
<g clip-path="url(#cp11)">
<g filter="url(#bl)">
<path d="M660.6 938.4L665.9 964.3" stroke="#ebebed" stroke-width="15.750787539376967" stroke-linecap="round"/>
<path d="M628.8 1039.9 L625.3 1029.0 L606.0 992.3 L599.9 980.0 L606.0 967.8 L623.5 957.3 L644.5 953.8 L662.0 957.3 L672.5 967.8 L672.5 980.0 L669.0 1008.0 L664.6 1032.5 L663.8 1039.9Z" fill="url(#hg)" stroke="url(#hg)" stroke-width="3" stroke-linejoin="round"/>
<path d="M599.3 957.0L609.4 982.1" stroke="#dededf" stroke-width="9.625481274063702" stroke-linecap="round"/>
<path d="M598.5 956.7L608.6 981.8" stroke="#efeff0" stroke-width="9.025481274063702" stroke-linecap="round"/>
<path d="M608.2 939.7L619.9 975.1" stroke="#dededf" stroke-width="11.900595029751488" stroke-linecap="round"/>
<path d="M607.4 939.4L619.1 974.8" stroke="#f1f1f2" stroke-width="11.300595029751488" stroke-linecap="round"/>
<path d="M623.3 928.0L632.2 964.6" stroke="#dededf" stroke-width="13.12565628281414" stroke-linecap="round"/>
<path d="M622.5 927.7L631.4 964.3" stroke="#f2f2f3" stroke-width="12.52565628281414" stroke-linecap="round"/>
<path d="M640.1 922.7L646.2 957.6" stroke="#dededf" stroke-width="14.875743787189359" stroke-linecap="round"/>
<path d="M639.3 922.4L645.4 957.3" stroke="#f3f3f4" stroke-width="14.27574378718936" stroke-linecap="round"/>
<rect x="628.8" y="1039.5" width="35.0" height="39.0" fill="url(#wg)"/>
<path d="M628.8 1039.8H663.8" stroke="#f6f6f7" stroke-width="1.6"/>
</g>
<path d="M568.60 1045.00A85.40 99.10 0 1 0 739.40 1045.00A85.40 99.10 0 1 0 568.60 1045.00ZM585.50 1044.00A68.50 78.00 0 1 0 722.50 1044.00A68.50 78.00 0 1 0 585.50 1044.00Z" fill="#000" fill-rule="evenodd"/>
<path d="M626.10 940.60L635.80 977.40" stroke="#fff" stroke-width="10.4" stroke-linecap="round"/>
<path d="M626.10 940.60L635.80 977.40" stroke="#000" stroke-width="5.2" stroke-linecap="round"/>
</g>
<g clip-path="url(#cp12)">
<g filter="url(#bl)">
<path d="M855.1 933.1L868.6 950.6" stroke="#ebebed" stroke-width="16.625831291564577" stroke-linecap="round"/>
<path d="M844.6 1039.9 L835.0 1027.3 L814.0 1001.0 L799.1 987.0 L807.0 974.8 L822.8 962.5 L840.3 952.9 L856.0 948.5 L868.3 949.9 L876.1 954.6 L876.1 969.5 L876.1 1032.5 L880.5 1039.9Z" fill="url(#hg)" stroke="url(#hg)" stroke-width="3" stroke-linejoin="round"/>
<path d="M798.2 975.6L810.4 989.9" stroke="#dededf" stroke-width="9.625481274063702" stroke-linecap="round"/>
<path d="M797.4 975.3L809.6 989.6" stroke="#efeff0" stroke-width="9.025481274063702" stroke-linecap="round"/>
<path d="M803.3 954.8L820.9 976.8" stroke="#dededf" stroke-width="12.25061253062653" stroke-linecap="round"/>
<path d="M802.5 954.5L820.1 976.5" stroke="#f1f1f2" stroke-width="11.65061253062653" stroke-linecap="round"/>
<path d="M813.2 936.7L834.1 965.4" stroke="#dededf" stroke-width="13.12565628281414" stroke-linecap="round"/>
<path d="M812.4 936.4L833.3 965.1" stroke="#f2f2f3" stroke-width="12.52565628281414" stroke-linecap="round"/>
<path d="M828.5 926.1L843.7 953.2" stroke="#dededf" stroke-width="14.875743787189359" stroke-linecap="round"/>
<path d="M827.7 925.8L842.9 952.9" stroke="#f3f3f4" stroke-width="14.27574378718936" stroke-linecap="round"/>
<rect x="844.6" y="1039.5" width="35.9" height="39.0" fill="url(#wg)"/>
<path d="M844.6 1039.8H880.5" stroke="#f6f6f7" stroke-width="1.6"/>
</g>
<path d="M783.60 1045.00A85.40 99.10 0 1 0 954.40 1045.00A85.40 99.10 0 1 0 783.60 1045.00ZM800.50 1044.00A68.50 78.00 0 1 0 937.50 1044.00A68.50 78.00 0 1 0 800.50 1044.00Z" fill="#000" fill-rule="evenodd"/>
<path d="M820.10 952.00L839.40 983.50" stroke="#fff" stroke-width="10.4" stroke-linecap="round"/>
<path d="M820.10 952.00L839.40 983.50" stroke="#000" stroke-width="5.2" stroke-linecap="round"/>
</g>
</svg>
</body></html>
